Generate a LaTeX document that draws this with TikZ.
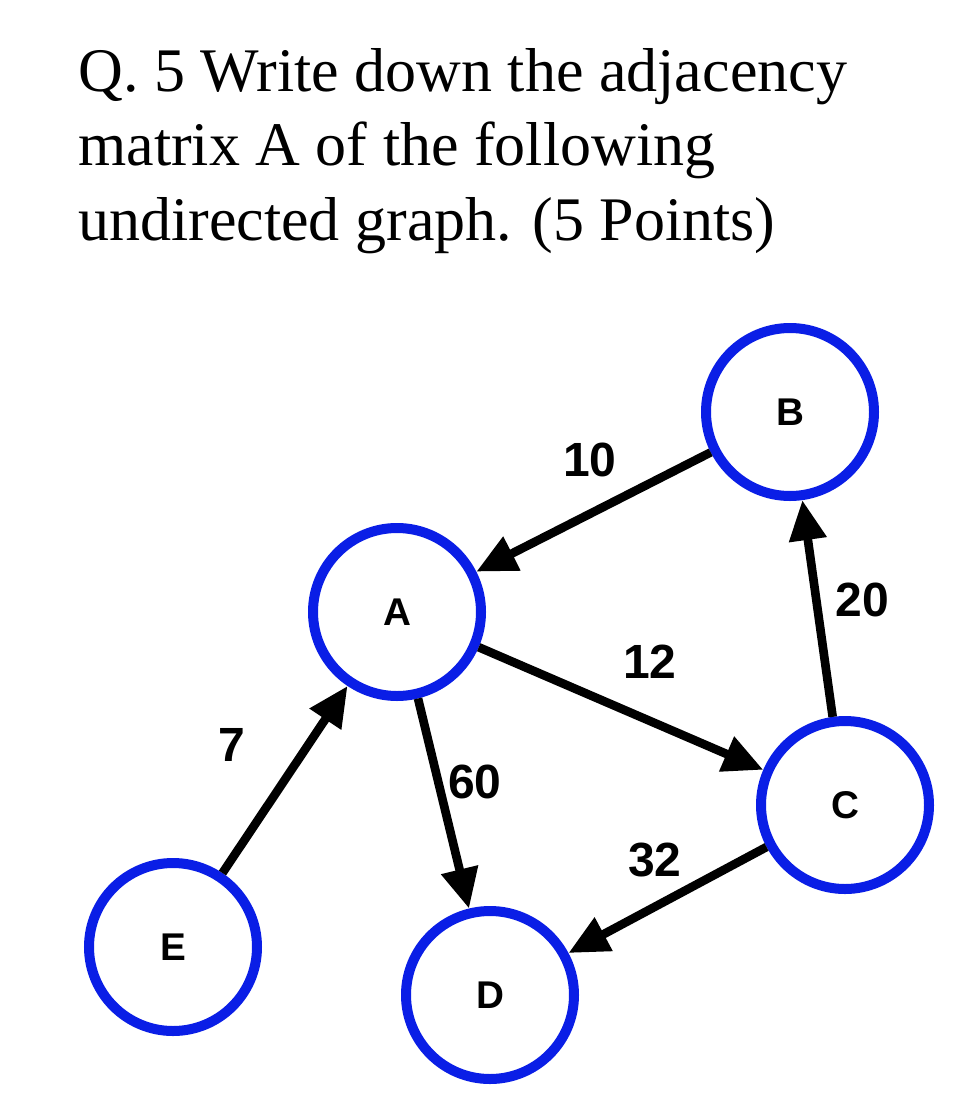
\documentclass[tikz,border=0pt]{standalone}
\usepackage{fontspec}
\setmainfont{Liberation Serif}
\newfontfamily\lsans{Liberation Sans}
\usetikzlibrary{arrows.meta}
\begin{document}
\begin{tikzpicture}[x=0.75pt,y=-0.75pt,
  vert/.style={circle,draw={rgb,255:red,10;green,30;blue,230},line width=7.5pt,minimum size=126pt,inner sep=0pt,font=\lsans\bfseries\fontsize{29}{29}\selectfont},
  edge/.style={line width=6.5pt,-{Triangle[length=30pt,width=27pt]}},
  wt/.style={font=\lsans\bfseries\fontsize{36}{36}\selectfont}]
\useasboundingbox[fill=white] (0,0) rectangle (967,1096);
\node[anchor=north west,align=left,inner sep=0pt,font=\fontsize{46.5}{56}\selectfont] (title) at (78,48)
  {Q. 5 Write down the adjacency\\matrix A of the following\\undirected graph. (5 Points)};
\node[vert] (B) at (790,412) {B};
\node[vert] (A) at (397,612) {A};
\node[vert] (C) at (845,805) {C};
\node[vert] (E) at (173,947) {E};
\node[vert] (D) at (490,995) {D};
\draw[edge] (B) -- (A);
\draw[edge] (A) -- (C);
\draw[edge] (C) -- (B);
\draw[edge] (E) -- (A);
\draw[edge] (A) -- (D);
\draw[edge] (C) -- (D);
\node[wt] (w10) at (590,460) {10};
\node[wt] (w20) at (862,600) {20};
\node[wt] (w12) at (650,662) {12};
\node[wt] (w7) at (232,745) {7};
\node[wt] (w60) at (475,782) {60};
\node[wt] (w32) at (655,860) {32};
\end{tikzpicture}
\end{document}
